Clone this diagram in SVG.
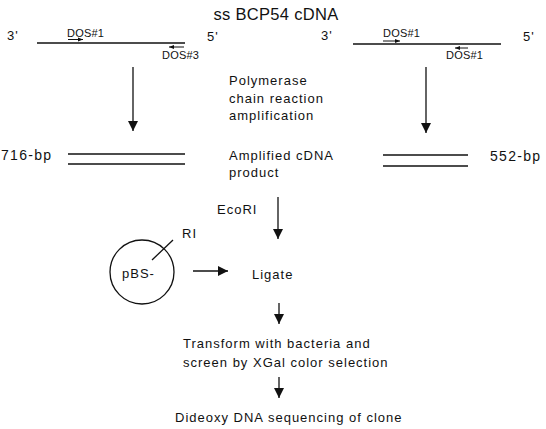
<svg xmlns="http://www.w3.org/2000/svg" width="546" height="429" viewBox="0 0 546 429">
<defs>
<style>
text{font-family:"Liberation Sans",Arial,sans-serif;fill:#111;font-size:13px;letter-spacing:1px}
.t{font-size:16.5px;letter-spacing:0.3px}
.s{font-size:11px;letter-spacing:0.2px}
.bp{font-size:14px;letter-spacing:1.3px}
.ln{stroke:#111;stroke-width:1.3;fill:none}
.th{stroke:#111;stroke-width:1;fill:none}
</style>
<marker id="ah" viewBox="0 0 10 10" refX="10" refY="5" markerWidth="10" markerHeight="10" markerUnits="userSpaceOnUse" orient="auto"><path d="M0,0 L10,5 L0,10 z" fill="#111"/></marker>
<marker id="sa" viewBox="0 0 10 10" refX="10" refY="5" markerWidth="6" markerHeight="5" markerUnits="userSpaceOnUse" orient="auto"><path d="M0,1 L10,5 L0,9 z" fill="#111"/></marker>
</defs>
<g id="title"><text class="t" x="276" y="20" text-anchor="middle">ss BCP54 cDNA</text></g>
<g id="left-strand">
<text x="7" y="40">3'</text>
<line class="ln" x1="37" y1="43" x2="185" y2="43"/>
<text x="207" y="41">5'</text>
<text class="s" x="67" y="37">DOS#1</text>
<line class="th" x1="68" y1="39.5" x2="83" y2="39.5" marker-end="url(#sa)"/>
<line class="th" x1="184" y1="47" x2="169" y2="47" marker-end="url(#sa)"/>
<text class="s" x="162" y="59">DOS#3</text>
</g>
<g id="right-strand">
<text x="321" y="40">3'</text>
<line class="ln" x1="353" y1="44" x2="501" y2="44"/>
<text x="523" y="41">5'</text>
<text class="s" x="383" y="37">DOS#1</text>
<line class="th" x1="383" y1="41" x2="400" y2="41" marker-end="url(#sa)"/>
<line class="th" x1="468" y1="48" x2="455" y2="48" marker-end="url(#sa)"/>
<text class="s" x="446" y="59">DOS#1</text>
</g>
<g id="pcr-label">
<text x="229" y="85">Polymerase</text>
<text x="229" y="102.5">chain reaction</text>
<text x="229" y="120">amplification</text>
</g>
<g id="left-product">
<text class="bp" x="1" y="160">716-bp</text>
<line class="ln" x1="68" y1="154" x2="185" y2="154"/>
<line class="ln" x1="68" y1="164" x2="185" y2="164"/>
</g>
<g id="product-label">
<text x="229" y="160">Amplified cDNA</text>
<text x="229" y="177">product</text>
</g>
<g id="right-product">
<line class="ln" x1="383" y1="155" x2="468" y2="155"/>
<line class="ln" x1="383" y1="166" x2="468" y2="166"/>
<text class="bp" x="490" y="161">552-bp</text>
</g>
<g id="ecori"><text x="217" y="214">EcoRI</text></g>
<g id="plasmid">
<circle class="ln" cx="142" cy="272" r="32"/>
<line class="ln" x1="152" y1="260" x2="173" y2="240"/>
<text x="182" y="238">RI</text>
<text x="122" y="278">pBS-</text>
</g>
<g id="ligate"><text x="252" y="279">Ligate</text></g>
<g id="transform">
<text x="183" y="348">Transform with bacteria and</text>
<text x="183" y="367">screen by XGal color selection</text>
</g>
<g id="sequencing"><text x="175" y="422">Dideoxy DNA sequencing of clone</text></g>
<g id="connectors">
<line class="ln" x1="133" y1="67" x2="133" y2="131" marker-end="url(#ah)"/>
<line class="ln" x1="426" y1="67" x2="426" y2="133" marker-end="url(#ah)"/>
<line class="ln" x1="278" y1="197" x2="278" y2="239" marker-end="url(#ah)"/>
<line class="ln" x1="193" y1="271" x2="228" y2="271" marker-end="url(#ah)"/>
<line class="ln" x1="279" y1="303" x2="279" y2="324" marker-end="url(#ah)"/>
<line class="ln" x1="279" y1="377" x2="279" y2="398" marker-end="url(#ah)"/>
</g>
</svg>
